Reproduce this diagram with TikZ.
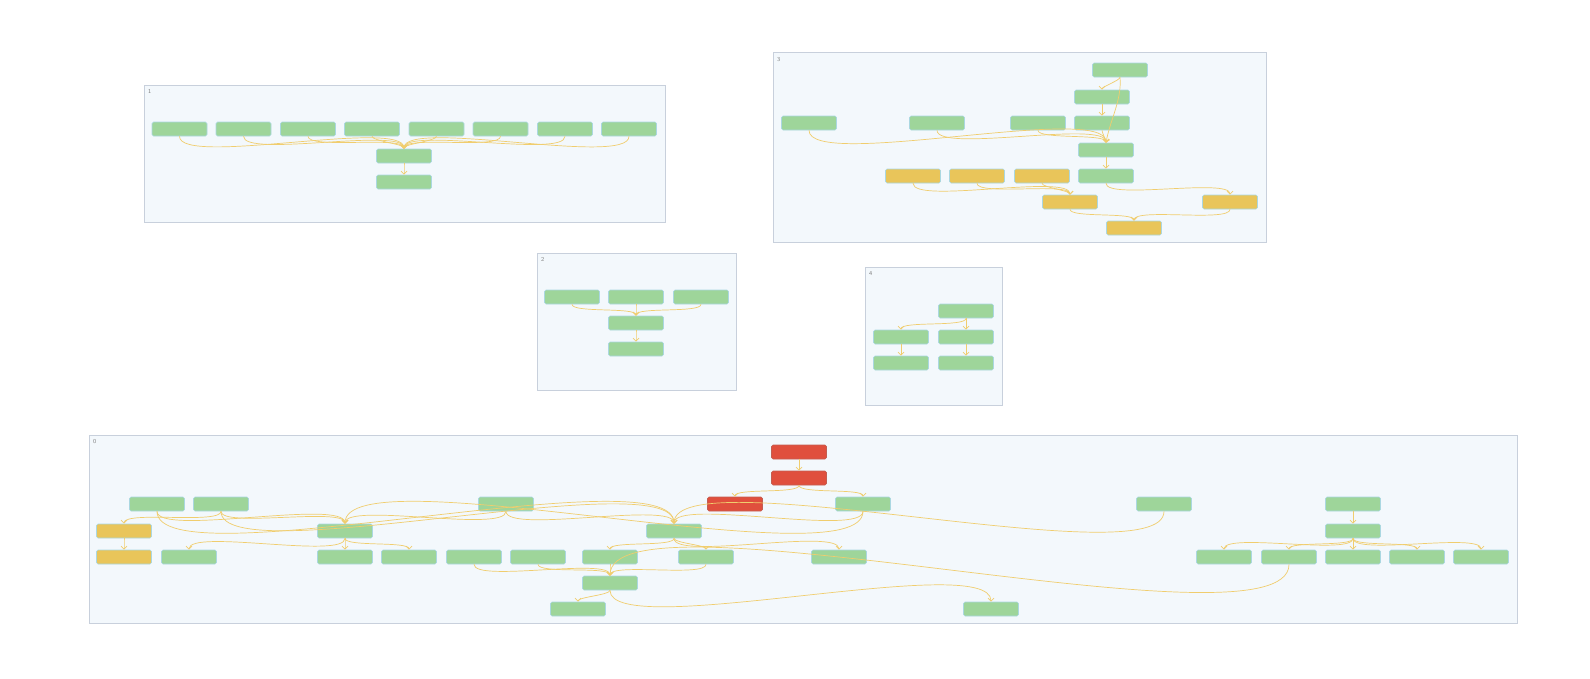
\documentclass[tikz,border=0pt]{standalone}
\usetikzlibrary{arrows.meta}
\definecolor{gfill}{RGB}{158,213,154}
\definecolor{gdraw}{RGB}{170,215,225}
\definecolor{rfill}{RGB}{224,79,61}
\definecolor{yfill}{RGB}{233,197,90}
\definecolor{cfill}{RGB}{243,248,252}
\definecolor{cdraw}{RGB}{200,208,220}
\definecolor{ecol}{RGB}{240,205,110}
\tikzset{
 box/.style={rounded corners=1.5pt,minimum width=55pt,minimum height=14pt,inner sep=0pt,draw=gdraw,line width=0.6pt},
 gn/.style={box,fill=gfill},
 rn/.style={box,fill=rfill,draw=rfill!70!gray},
 yn/.style={box,fill=yfill},
 clus/.style={fill=cfill,draw=cdraw,line width=1pt},
 clab/.style={font=\fontsize{6}{6}\selectfont\sffamily,text=gray,anchor=north west,inner sep=0pt},
 e/.style={draw=ecol,line width=0.7pt,-{Straight Barb[length=3pt,width=6pt]}},
}
\newcommand{\ed}[2]{\draw[e] (#1.south) to[out=-90,in=90,looseness=0.35] (#2.north);}
\begin{document}
\begin{tikzpicture}[x=1pt,y=-1pt]
\useasboundingbox (0,0) rectangle (1590,678);
% clusters
\draw[clus] (144,85) rectangle (665,222); \node[clab] (l1) at (148,89) {1};
\draw[clus] (773,52) rectangle (1266,242); \node[clab] (l3) at (777,57) {3};
\draw[clus] (537,253) rectangle (736,390); \node[clab] (l2) at (541,257) {2};
\draw[clus] (865,267) rectangle (1002,405); \node[clab] (l4) at (869,271) {4};
\draw[clus] (89,435) rectangle (1517,623); \node[clab] (l0) at (93,439) {0};
% cluster 1
\foreach \x [count=\i] in {179.5,243.5,308,372,436.5,500.5,565,629}{\node[gn] (a\i) at (\x,129) {};}
\node[gn] (am) at (404,156) {};
\node[gn] (ab) at (404,182) {};
\foreach \i in {1,...,8}{\ed{a\i}{am}}
\ed{am}{ab}
% cluster 3
\node[gn] (tA) at (1120,70) {};
\node[gn] (tB) at (1102,97) {};
\node[gn] (tC1) at (809,123) {};
\node[gn] (tC2) at (937,123) {};
\node[gn] (tC3) at (1038,123) {};
\node[gn] (tC4) at (1102,123) {};
\node[gn] (tD) at (1106,150) {};
\node[yn] (tY1) at (913,176) {};
\node[yn] (tY2) at (977,176) {};
\node[yn] (tY3) at (1042,176) {};
\node[gn] (tE) at (1106,176) {};
\node[yn] (tF) at (1070,202) {};
\node[yn] (tG) at (1230,202) {};
\node[yn] (tH) at (1134,228) {};
\ed{tA}{tB}
\draw[e] (tA.south) .. controls (1122,100) and (1110,120) .. (tD.north);
\ed{tB}{tC4} \ed{tC1}{tD} \ed{tC2}{tD} \ed{tC3}{tD} \ed{tC4}{tD}
\ed{tD}{tE} \ed{tY1}{tF} \ed{tY2}{tF} \ed{tY3}{tF} \ed{tE}{tG}
\ed{tF}{tH} \ed{tG}{tH}
% cluster 2
\node[gn] (b1) at (572,297) {};
\node[gn] (b2) at (636,297) {};
\node[gn] (b3) at (701,297) {};
\node[gn] (bm) at (636,323) {};
\node[gn] (bb) at (636,349) {};
\ed{b1}{bm} \ed{b2}{bm} \ed{b3}{bm} \ed{bm}{bb}
% cluster 4
\node[gn] (c1) at (966,311) {};
\node[gn] (c2) at (901,337) {};
\node[gn] (c3) at (966,337) {};
\node[gn] (c4) at (901,363) {};
\node[gn] (c5) at (966,363) {};
\ed{c1}{c2} \ed{c1}{c3} \ed{c2}{c4} \ed{c3}{c5}
% cluster 0
\node[rn] (R1) at (799,452) {};
\node[rn] (R2) at (799,478) {};
\node[rn] (R3) at (735,504) {};
\node[gn] (g1) at (157,504) {};
\node[gn] (g2) at (221,504) {};
\node[gn] (g3) at (506,504) {};
\node[gn] (g5) at (863,504) {};
\node[gn] (g6) at (1164,504) {};
\node[gn] (g7) at (1353,504) {};
\node[yn] (Y1) at (124,531) {};
\node[gn] (M1) at (345,531) {};
\node[gn] (M2) at (674,531) {};
\node[gn] (N) at (1353,531) {};
\node[yn] (Y2) at (124,557) {};
\node[gn] (na) at (189,557) {};
\node[gn] (nb) at (345,557) {};
\node[gn] (nc) at (409,557) {};
\node[gn] (nd) at (474,557) {};
\node[gn] (ne) at (538,557) {};
\node[gn] (nf) at (610,557) {};
\node[gn] (nh) at (706,557) {};
\node[gn] (ni) at (839,557) {};
\foreach \x [count=\i] in {1224,1289,1353,1417,1481}{\node[gn] (r\i) at (\x,557) {};}
\node[gn] (P) at (610,583) {};
\node[gn] (Q1) at (578,609) {};
\node[gn] (Q2) at (991,609) {};
\ed{R1}{R2} \ed{R2}{R3} \ed{R2}{g5}
\ed{g2}{Y1} \ed{g1}{M1} \ed{g1}{M2} \ed{g2}{M1} \ed{g2}{M2}
\ed{g3}{M1} \ed{g3}{M2} \ed{g5}{M1} \ed{g5}{M2} \ed{g6}{M2}
\ed{Y1}{Y2} \ed{M1}{na} \ed{M1}{nb} \ed{M1}{nc}
\ed{M2}{nf} \ed{M2}{nh} \ed{M2}{ni}
\ed{nd}{P} \ed{ne}{P} \ed{nf}{P} \ed{nh}{P} \ed{r2}{P}
\ed{P}{Q1} \ed{P}{Q2}
\ed{g7}{N}
\foreach \i in {1,...,5}{\ed{N}{r\i}}
\end{tikzpicture}
\end{document}
